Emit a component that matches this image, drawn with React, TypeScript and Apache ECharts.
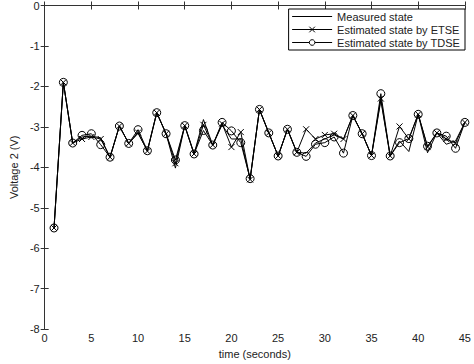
import React, { useEffect, useRef } from "react";
import * as echarts from "echarts";

const times = Array.from({ length: 45 }, (_, i) => i + 1);
const measured = [-5.5, -1.9, -3.4, -3.25, -3.23, -3.27, -3.75, -2.98, -3.41, -3.16, -3.59, -2.65, -3.17, -4.02, -2.97, -3.67, -2.82, -3.45, -2.95, -3.3, -3.3, -4.3, -2.57, -3.15, -3.72, -3.06, -3.63, -3.65, -3.4, -3.3, -3.2, -3.3, -2.72, -3.17, -3.71, -2.35, -3.72, -3.35, -3.61, -2.69, -3.64, -3.15, -3.43, -3.35, -2.89];
const etse = [-5.5, -1.9, -3.4, -3.3, -3.25, -3.3, -3.75, -2.98, -3.41, -3.14, -3.6, -2.65, -3.17, -3.9, -2.97, -3.67, -2.95, -3.45, -2.92, -3.5, -3.13, -4.3, -2.57, -3.15, -3.72, -3.06, -3.63, -3.06, -3.3, -3.2, -3.17, -3.3, -2.72, -3.17, -3.71, -2.3, -3.72, -2.99, -3.3, -2.69, -3.5, -3.15, -3.3, -3.4, -2.89];
const tdse = [-5.5, -1.9, -3.4, -3.21, -3.17, -3.44, -3.75, -2.98, -3.41, -3.07, -3.59, -2.65, -3.17, -3.82, -2.97, -3.67, -3.09, -3.45, -2.89, -3.1, -3.39, -4.28, -2.57, -3.15, -3.72, -3.06, -3.63, -3.73, -3.43, -3.39, -3.25, -3.65, -2.72, -3.17, -3.71, -2.18, -3.72, -3.39, -3.29, -2.69, -3.48, -3.15, -3.23, -3.53, -2.89];

const seriesNames = ["Measured state", "Estimated state by ETSE", "Estimated state by TDSE"];
const xName = "time (seconds)";
const yName = "Voltage 2 (V)";

const FONT = "Liberation Sans, Arial, sans-serif";
const TXT = "#222";
const X_SYMBOL = "path://M0,0L10,10M10,0L0,10";

export default function App() {
  const ref = useRef<HTMLDivElement>(null);
  useEffect(() => {
    if (!ref.current) return;
    const chart = echarts.init(ref.current, undefined, { renderer: "svg" });
    const pair = (arr: number[]) => arr.map((v, i) => [times[i], v]);
    const axisCommon = {
      axisLine: { show: true, lineStyle: { color: "#333", width: 1 } },
      axisTick: { show: true, inside: true, length: 4, lineStyle: { color: "#333" } },
      splitLine: { show: false },
    };
    chart.setOption({
      animation: false,
      backgroundColor: "#fff",
      textStyle: { fontFamily: FONT },
      grid: { left: 28, right: 5, top: 4, bottom: 23, containLabel: false },
      legend: {
        orient: "vertical",
        right: 9,
        top: 9,
        padding: [2, 5, 2, 3],
        itemWidth: 40,
        itemHeight: 7,
        itemGap: 2,
        backgroundColor: "#fff",
        borderColor: "#000",
        borderWidth: 1,
        lineStyle: { width: 1, color: "#000" },
        textStyle: { fontSize: 11, color: TXT, fontFamily: FONT },
        data: [
          { name: seriesNames[0], itemStyle: { opacity: 0 } },
          { name: seriesNames[1], itemStyle: { borderWidth: 1 } },
          { name: seriesNames[2], itemStyle: { borderWidth: 1, color: "#fff" } },
        ],
      },
      xAxis: [
        {
          type: "value",
          min: 0,
          max: 45,
          interval: 5,
          name: xName,
          nameLocation: "middle",
          nameGap: 15,
          nameTextStyle: { fontSize: 11, color: TXT, fontFamily: FONT },
          axisLabel: { fontSize: 11, color: TXT, margin: 3, fontFamily: FONT },
          ...axisCommon,
        },
        {
          type: "value",
          position: "top",
          min: 0,
          max: 45,
          interval: 5,
          axisLabel: { show: false },
          ...axisCommon,
        },
      ],
      yAxis: [
        {
          type: "value",
          min: -8,
          max: 0,
          interval: 1,
          name: yName,
          nameLocation: "middle",
          nameGap: 20,
          nameTextStyle: { fontSize: 11, color: TXT, fontFamily: FONT },
          axisLabel: { fontSize: 11, color: TXT, margin: 5, fontFamily: FONT },
          ...axisCommon,
        },
        {
          type: "value",
          position: "right",
          min: -8,
          max: 0,
          interval: 1,
          axisLabel: { show: false },
          ...axisCommon,
        },
      ],
      series: [
        {
          name: seriesNames[0],
          type: "line",
          data: pair(measured),
          symbol: "none",
          lineStyle: { color: "#000", width: 1 },
          itemStyle: { color: "#000" },
        },
        {
          name: seriesNames[1],
          type: "line",
          data: pair(etse),
          symbol: X_SYMBOL,
          symbolSize: 6,
          lineStyle: { color: "#000", width: 1 },
          itemStyle: { color: "none", borderColor: "#000", borderWidth: 1 },
        },
        {
          name: seriesNames[2],
          type: "line",
          data: pair(tdse),
          symbol: "circle",
          symbolSize: 8,
          lineStyle: { color: "#000", width: 1 },
          itemStyle: { color: "rgba(255,255,255,0)", borderColor: "#000", borderWidth: 1 },
        },
      ],
    });
    return () => chart.dispose();
  }, []);
  return (
    <div
      ref={ref}
      style={{ position: "fixed", left: 0, top: 0, width: 474, height: 364 }}
    />
  );
}
